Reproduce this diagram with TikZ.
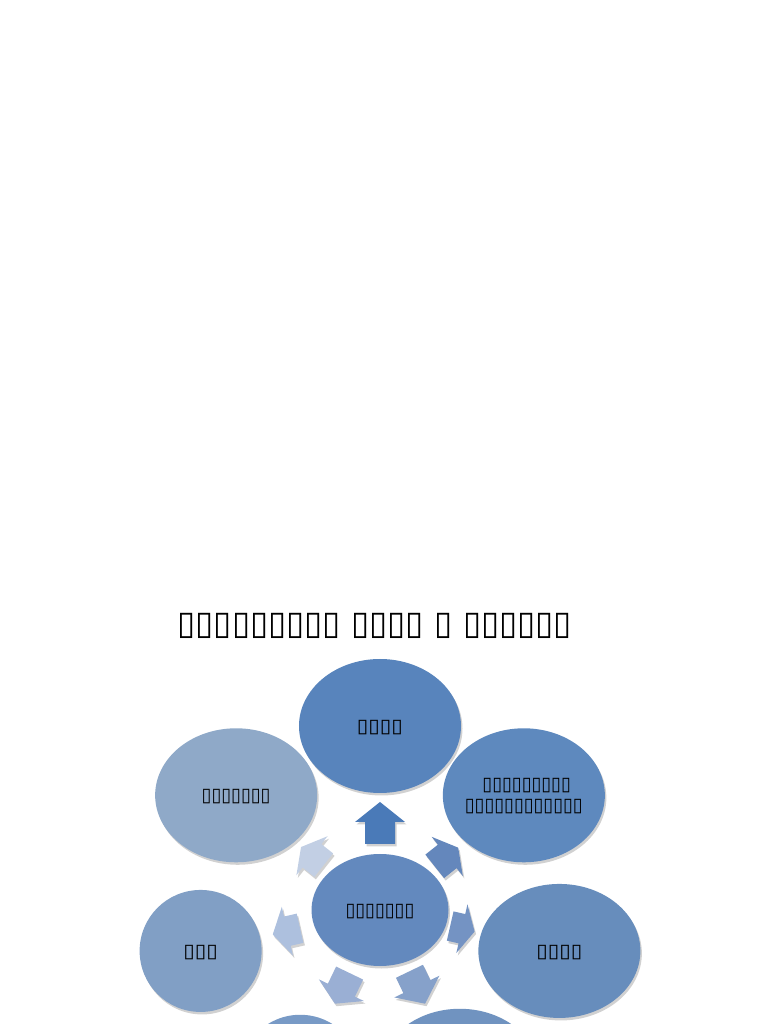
\documentclass[tikz,border=0pt]{standalone}
\usepackage{fontspec}
\newfontfamily\boxfont[FakeStretch=0.94]{DejaVu Sans}
\newfontfamily\wideboxfont[FakeStretch=1.1]{DejaVu Sans}
\newfontfamily\titlefont{DejaVu Sans}
\usetikzlibrary{shapes.geometric,shadows}

\definecolor{nodeA}{HTML}{5884BC}
\definecolor{nodeB}{HTML}{5E89BE}
\definecolor{nodeC}{HTML}{678DBC}
\definecolor{nodeD}{HTML}{7093C0}
\definecolor{nodeE}{HTML}{789AC6}
\definecolor{nodeF}{HTML}{819FC5}
\definecolor{nodeG}{HTML}{8FA9C8}
\definecolor{nodeHub}{HTML}{6389BE}
\definecolor{spokeA}{HTML}{4A7AB8}
\definecolor{spokeB}{HTML}{6487BC}
\definecolor{spokeC}{HTML}{7493C3}
\definecolor{spokeD}{HTML}{86A1CA}
\definecolor{spokeE}{HTML}{9AAFD4}
\definecolor{spokeF}{HTML}{ADC0DE}
\definecolor{spokeG}{HTML}{C2CFE4}

\begin{document}
\begin{tikzpicture}[x=1pt,y=1pt,
  soft/.style={drop shadow={shadow xshift=1.5pt,shadow yshift=-2.5pt,opacity=0.3,fill=black!60}},
  bubble/.style={ellipse,soft,minimum width=162pt,minimum height=134pt,inner sep=0pt,align=center,
    text depth=0pt,font=\boxfont\fontsize{19}{21}\selectfont},
  widebubble/.style={bubble,font=\wideboxfont\fontsize{19}{21}\selectfont},
  smallbubble/.style={widebubble,minimum width=122pt,minimum height=122pt},
  % tail, head base and tip distance from the hub centre
  pics/spoke/.style n args={3}{code={
    \fill[soft] (#1,-15) -- (#2,-15) -- (#2,-25) -- (#3,0) -- (#2,25) -- (#2,15) -- (#1,15) -- cycle;}}]
  \useasboundingbox (-380,-114) rectangle (388,910);

  \node[font=\titlefont\fontsize{33}{36}\selectfont] (title) at (-5,284) {▯▯▯▯▯▯▯▯▯ ▯▯▯▯ ▯ ▯▯▯▯▯▯};

  \node[bubble,fill=nodeHub,minimum width=137pt,minimum height=112pt] (hub) at (0,0) {▯▯▯▯▯▯▯};
  \node[widebubble,fill=nodeA] (n1) at (90:184) {▯▯▯▯};
  \node[bubble,fill=nodeB,inner sep=-6pt] (n2) at (38.57:184) {\hspace*{0.3em}▯▯▯▯▯▯▯▯▯\\▯▯▯▯▯▯▯▯▯▯▯▯};
  \node[widebubble,fill=nodeC] (n3) at (-12.86:184) {▯▯▯▯};
  \node[bubble,fill=nodeD] (n4) at (-64.29:184) {};
  \node[smallbubble,fill=nodeE] (n5) at (-115.71:184) {};
  \node[smallbubble,fill=nodeF] (n6) at (-167.14:184) {▯▯▯};
  \node[bubble,fill=nodeG] (n7) at (141.43:184) {▯▯▯▯▯▯▯};

  \pic[fill=spokeA,rotate=90] {spoke={66}{88}{108}};
  \pic[fill=spokeB,rotate=38.57] {spoke={70}{86}{100}};
  \pic[fill=spokeC,rotate=-12.86] {spoke={72}{84}{97}};
  \pic[fill=spokeD,rotate=-64.29] {spoke={68}{85}{104}};
  \pic[fill=spokeE,rotate=-115.71] {spoke={70}{89}{104}};
  \pic[fill=spokeF,rotate=-167.14] {spoke={82}{95}{110}};
  \pic[fill=spokeG,rotate=141.43] {spoke={72}{87}{101}};
\end{tikzpicture}
\end{document}
